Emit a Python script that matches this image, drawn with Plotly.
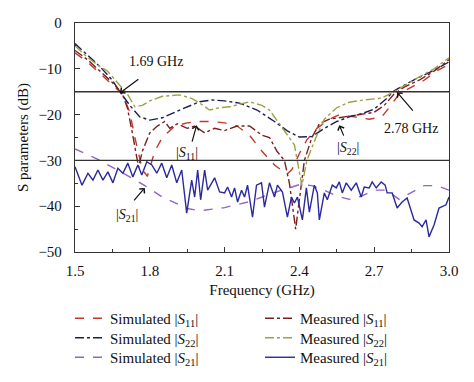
import plotly.graph_objects as go

# ---------------- data ----------------
sim_s11_f = [1.50, 1.55, 1.60, 1.65, 1.69, 1.72, 1.74, 1.77, 1.79, 1.82, 1.85, 1.90, 1.95, 2.00, 2.05, 2.10,
             2.15, 2.20, 2.25, 2.30, 2.35, 2.37, 2.40, 2.43, 2.47, 2.52, 2.56, 2.62, 2.68, 2.73, 2.76, 2.80,
             2.85, 2.90, 2.95, 3.00]
sim_s11_db = [-6.5, -8.5, -11, -13.5, -15.5, -19.5, -25, -32, -33.5, -28, -25, -22.5, -21.8, -21.5, -21.5, -21.8,
              -22.5, -24.5, -28, -31, -33, -32, -28.5, -25.5, -23, -21, -20, -20.5, -21, -20.5, -18.5, -15.5,
              -14, -12.5, -10.5, -9]

meas_s11_f = [1.50, 1.55, 1.60, 1.65, 1.69, 1.71, 1.73, 1.755, 1.77, 1.80, 1.83, 1.86, 1.88, 1.91, 1.95, 1.98,
              2.02, 2.06, 2.10, 2.15, 2.20, 2.25, 2.28, 2.31, 2.34, 2.36, 2.385, 2.40, 2.42, 2.45, 2.48, 2.52,
              2.58, 2.65, 2.70, 2.74, 2.78, 2.82, 2.88, 2.94, 3.00]
meas_s11_db = [-6, -8, -10.5, -13, -15.5, -18.5, -24, -31.5, -28, -24, -22.5, -21.5, -23, -22, -23, -22.5,
               -24, -23, -23.5, -22.5, -22.5, -24.5, -25, -28, -30, -35, -45, -38, -30, -25, -22, -21,
               -20.5, -20, -19.5, -18, -15.5, -14, -12.5, -10.5, -8]

sim_s22_f = [1.50, 1.55, 1.60, 1.65, 1.68, 1.72, 1.76, 1.80, 1.85, 1.92, 2.00, 2.05, 2.10, 2.16, 2.23, 2.30,
             2.35, 2.40, 2.45, 2.50, 2.55, 2.60, 2.65, 2.70, 2.75, 2.78, 2.86, 2.94, 3.00]
sim_s22_db = [-4.5, -7, -9.5, -12.5, -15, -18, -20.5, -21.2, -20.7, -19, -17.2, -16.8, -17, -17.5, -19, -21.5,
              -23.5, -24.9, -24.8, -23, -21.5, -20.5, -19.8, -18.8, -16.5, -14.8, -12.4, -10.3, -8.5]

meas_s22_f = [1.50, 1.55, 1.60, 1.63, 1.67, 1.71, 1.74, 1.77, 1.80, 1.85, 1.92, 1.97, 2.00, 2.04, 2.08, 2.12,
              2.20, 2.25, 2.28, 2.33, 2.38, 2.41, 2.43, 2.47, 2.50, 2.55, 2.60, 2.66, 2.73, 2.78, 2.86, 2.94, 3.00]
meas_s22_db = [-5, -7.5, -9.5, -10.5, -13, -15.5, -18.3, -18, -17, -16, -15.7, -16.5, -17.5, -19, -18.5, -18.3,
               -17.2, -18, -19, -22.7, -26.6, -35.5, -30, -24.5, -21, -18.5, -17.3, -16.8, -16.4, -15, -12.4,
               -10, -7.6]

sim_s21_f = [1.50, 1.60, 1.70, 1.78, 1.85, 1.95, 2.00, 2.10, 2.20, 2.30, 2.40, 2.45, 2.50, 2.55, 2.60, 2.65,
             2.70, 2.75, 2.80, 2.85, 2.90, 2.95, 3.00]
sim_s21_db = [-27.5, -30, -33, -35.5, -38, -40.5, -41, -40.3, -39, -37, -35.3, -35.5, -36.5, -37.8, -38.5, -37.8,
              -36.5, -36.5, -38.5, -37, -35.5, -35.5, -36.5]

meas_s21_f = [1.500, 1.528, 1.552, 1.572, 1.592, 1.612, 1.632, 1.652, 1.672, 1.692, 1.712, 1.732, 1.752, 1.768,
              1.788, 1.808, 1.828, 1.848, 1.868, 1.888, 1.908, 1.928, 1.948, 1.968, 1.980, 1.992, 2.004, 2.020,
              2.032, 2.060, 2.080, 2.100, 2.112, 2.128, 2.140, 2.152, 2.168, 2.180, 2.192, 2.212, 2.228, 2.248,
              2.260, 2.280, 2.300, 2.312, 2.332, 2.352, 2.368, 2.380, 2.392, 2.412, 2.428, 2.440, 2.460, 2.472,
              2.480, 2.500, 2.512, 2.532, 2.548, 2.560, 2.572, 2.588, 2.608, 2.628, 2.648, 2.660, 2.680, 2.692,
              2.708, 2.728, 2.744, 2.752, 2.772, 2.792, 2.812, 2.832, 2.860, 2.880, 2.892, 2.908, 2.920, 2.940,
              2.960, 2.988, 3.000]
meas_s21_db = [-31.4, -35.4, -32.8, -34.3, -32.1, -34.3, -32.5, -34.9, -31.7, -32.8, -30.6, -33.6, -31.0, -33.2,
               -30.3, -31.0, -32.8, -30.6, -33.8, -31.0, -34.9, -32.1, -41.5, -34.3, -38.0, -32.1, -38.6, -32.1,
               -36.5, -33.8, -36.9, -37.1, -35.8, -38.0, -36.0, -39.1, -36.5, -38.0, -35.4, -42.4, -35.4, -34.9,
               -40.2, -34.9, -38.0, -35.4, -36.9, -42.4, -38.0, -39.3, -38.0, -43.0, -36.0, -41.3, -35.4, -37.1,
               -43.0, -37.1, -38.6, -35.4, -36.0, -34.7, -37.1, -34.9, -36.5, -34.9, -38.0, -35.8, -36.0, -34.7,
               -36.0, -34.7, -35.4, -37.1, -37.1, -40.4, -39.1, -38.2, -43.0, -43.7, -44.5, -43.0, -46.7, -44.1,
               -40.4, -39.7, -38.0]

threshold_lines = [-15, -30]
x_ticks = [1.5, 1.8, 2.1, 2.4, 2.7, 3.0]
y_ticks = [0, -10, -20, -30, -40, -50]

FONT = "Liberation Serif, Times New Roman, serif"
TXT = dict(family=FONT, size=14, color="#111111")
LEG = dict(family=FONT, size=15, color="#111111")

# page body has an 8px margin; plot area target: x 75..449, y 23..252 in the window
PL, PT, PW, PH = 67, 15, 374, 229
W, H = 466, 374

fig = go.Figure()

series = [
    ("Simulated |<i>S</i><sub>11</sub>|", sim_s11_f, sim_s11_db, "#c0392b", "dash"),
    ("Simulated |<i>S</i><sub>22</sub>|", sim_s22_f, sim_s22_db, "#1c1c5a", "dashdot"),
    ("Simulated |<i>S</i><sub>21</sub>|", sim_s21_f, sim_s21_db, "#9064c8", "dash"),
    ("Measured |<i>S</i><sub>11</sub>|", meas_s11_f, meas_s11_db, "#7d1e1e", "dashdot"),
    ("Measured |<i>S</i><sub>22</sub>|", meas_s22_f, meas_s22_db, "#a0a048", "dashdot"),
    ("Measured |<i>S</i><sub>21</sub>|", meas_s21_f, meas_s21_db, "#2a2a9c", "solid"),
]
legend_names = ["legend", "legend2", "legend3", "legend4", "legend5", "legend6"]
for (name, xs, ys, col, dash), lg in zip(series, legend_names):
    fig.add_trace(go.Scatter(x=xs, y=ys, mode="lines", name=name, legend=lg,
                             line=dict(color=col, dash=dash, width=1.4)))

for yv in threshold_lines:
    fig.add_shape(type="line", xref="x", yref="y", x0=1.5, x1=3.0, y0=yv, y1=yv,
                  line=dict(color="#333333", width=1.4))

def arrow(x, y, ax, ay):
    fig.add_annotation(x=x, y=y, xref="x", yref="y", ax=ax, ay=ay, text="",
                       showarrow=True, arrowhead=4, arrowsize=1.1, arrowwidth=1.2,
                       arrowcolor="#111111")

def label(text, x, y):
    fig.add_annotation(x=x, y=y, xref="x", yref="y", text=text, showarrow=False, font=TXT)

arrow(1.68, -15.3, 20, -15)
label("1.69 GHz", 1.824, -8.5)
arrow(2.792, -15.1, 17, 20)
label("2.78 GHz", 2.848, -23.1)
arrow(1.988, -22.3, -5, 18)
label("|<i>S</i><sub>11</sub>|", 1.95, -28.5)
arrow(2.56, -22.3, 5, 12)
label("|<i>S</i><sub>22</sub>|", 2.596, -27.5)
arrow(1.78, -36.0, -12, 14)
label("|<i>S</i><sub>21</sub>|", 1.708, -42.1)

axis_common = dict(showline=True, linecolor="#333333", linewidth=1.3, mirror=True,
                   ticks="inside", ticklen=5, tickcolor="#333333", showgrid=False, zeroline=False,
                   tickfont=dict(family=FONT, size=15, color="#111111"))

fig.update_xaxes(range=[1.5, 3.0], tickvals=x_ticks, ticktext=[f"{v:.1f}" for v in x_ticks],
                 ticklabelstandoff=5,
                 minor=dict(tickvals=[1.65, 1.95, 2.25, 2.55, 2.85], ticks="inside", ticklen=3,
                            tickcolor="#333333"),
                 title=dict(text="Frequency (GHz)", font=dict(family=FONT, size=15, color="#111111"),
                            standoff=6),
                 **axis_common)
fig.update_yaxes(range=[-50, 0], tickvals=y_ticks, ticklabelstandoff=9,
                 minor=dict(tickvals=[-5, -15, -25, -35, -45], ticks="inside", ticklen=3,
                            tickcolor="#333333"),
                 title=dict(text="S parameters (dB)", font=dict(family=FONT, size=15, color="#111111"),
                            standoff=6),
                 **axis_common)

def leg(px_left, px_top):
    return dict(font=LEG, bgcolor="rgba(0,0,0,0)", orientation="v", xanchor="left", yanchor="top",
                itemwidth=30, x=(px_left - 75) / PW, y=(252 - px_top) / PH)

row_tops = [302, 321.5, 341]
fig.update_layout(
    width=W, height=H,
    margin=dict(l=PL, r=W - PL - PW, t=PT, b=H - PT - PH, autoexpand=False),
    paper_bgcolor="white", plot_bgcolor="white",
    showlegend=True,
    legend=leg(70, row_tops[0]),
    legend2=leg(70, row_tops[1]),
    legend3=leg(70, row_tops[2]),
    legend4=leg(260, row_tops[0]),
    legend5=leg(260, row_tops[1]),
    legend6=leg(260, row_tops[2]),
)

fig.write_html("out.html")
